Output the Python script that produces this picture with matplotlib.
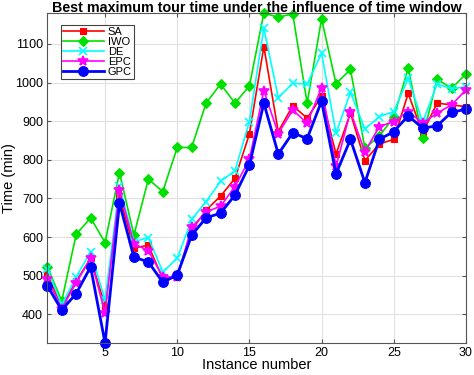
import matplotlib
matplotlib.use("Agg")
import matplotlib.pyplot as plt

instances = list(range(1, 31))
SA  = [504, 420, 486, 545, 423, 706, 572, 579, 492, 497, 618, 670, 706, 752, 867, 1093, 873, 940, 908, 964, 815, 921, 798, 841, 853, 972, 869, 947, 942, 938]
IWO = [523, 435, 607, 650, 586, 767, 605, 750, 718, 832, 832, 947, 996, 947, 991, 1180, 1169, 1178, 947, 1165, 997, 1034, 830, 862, 910, 1037, 856, 1009, 985, 1022]
DE  = [518, 425, 497, 562, 437, 732, 588, 599, 510, 545, 646, 692, 744, 772, 899, 1141, 961, 998, 996, 1076, 869, 975, 880, 912, 925, 1011, 897, 996, 984, 989]
EPC = [491, 415, 482, 545, 404, 722, 583, 565, 497, 497, 625, 665, 680, 731, 801, 979, 868, 929, 895, 987, 783, 925, 821, 886, 899, 925, 895, 921, 942, 981]
GPC = [474, 411, 454, 523, 326, 688, 548, 536, 483, 502, 605, 650, 662, 709, 786, 947, 815, 870, 855, 952, 764, 853, 741, 853, 873, 914, 882, 888, 923, 931]

series = [("SA", SA, "#ff0000", "s", 5, 1.2),
          ("IWO", IWO, "#00e000", "D", 5.5, 1.2),
          ("DE", DE, "#00ffff", "x", 6, 1.2),
          ("EPC", EPC, "#ff00ff", "*", 7, 1.2),
          ("GPC", GPC, "#0000ff", "o", 7, 2.0)]

plt.rcParams['font.family'] = ['Liberation Sans', 'DejaVu Sans']
fig = plt.figure(figsize=(4.74, 3.75), dpi=100)
ax = fig.add_axes([0.0998, 0.0853, 0.8832, 0.88])

for name, vals, col, mk, ms, lw in series:
    ax.plot(instances, vals, color=col, marker=mk, markersize=ms, linewidth=lw,
            markeredgewidth=1.2 if mk in ('x', '*') else 0.8, label=name, clip_on=False)

allv = SA + IWO + DE + EPC + GPC
ax.set_xlim(1, 30)
ax.set_ylim(min(allv), max(allv))
ax.set_xticks([5, 10, 15, 20, 25, 30])
ax.set_yticks([400, 500, 600, 700, 800, 900, 1000, 1100])
ax.grid(True, color="#e0e0e0", linewidth=0.8)
ax.set_axisbelow(True)
ax.tick_params(direction="in", top=True, right=True, labelsize=9, length=3,
               color="#555555", pad=3)
for s in ax.spines.values():
    s.set_color("#555555")
    s.set_linewidth(0.8)

ax.set_title("Best maximum tour time under the influence of time window",
             fontsize=10.3, fontweight="bold", pad=1)
ax.set_xlabel("Instance number", fontsize=10.5, labelpad=-1)
ax.set_ylabel("Time (min)", fontsize=10.5)
ax.yaxis.set_label_coords(-0.074, 0.5)

leg = ax.legend(loc="upper left", bbox_to_anchor=(0.032, 0.964), fontsize=8,
                handlelength=3.7, handletextpad=0.35, labelspacing=0.0,
                borderpad=0.2, borderaxespad=0, fancybox=False, framealpha=1)
leg.get_frame().set_edgecolor("#444444")
leg.get_frame().set_linewidth(0.8)

fig.savefig("out.png", dpi=100)
